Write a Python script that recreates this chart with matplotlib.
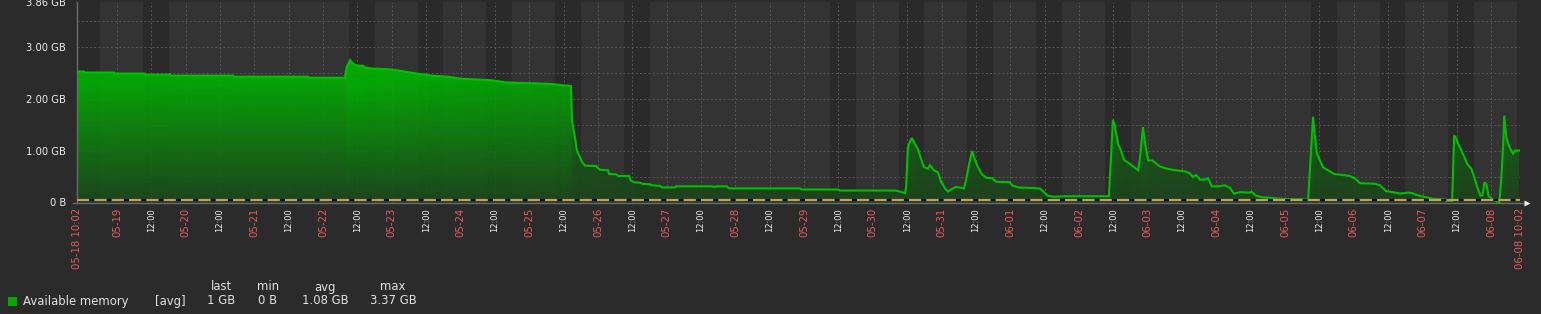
import numpy as np
import pandas as pd
import matplotlib
matplotlib.use('Agg')
import matplotlib.pyplot as plt
import matplotlib.dates as mdates

start = pd.Timestamp('2023-05-18 10:02')
end = pd.Timestamp('2023-06-08 10:02')

# hours since start / available memory (GB)
hours = [0, 2.4, 2.8, 12.9, 13.3, 23.7, 24.1, 32.1, 32.5, 32.8, 54.5, 54.8, 80.7, 81.0,
         93.6, 94.0, 94.3, 95.4, 96.4, 97.8, 99.9, 100.6, 102.3, 109.3, 112.1, 115.3,
         119.8, 124.0, 129.6, 134.1, 144.9, 149.8, 155.1, 165.6, 170.4, 172.5, 172.9,
         173.9, 174.6, 175.7, 176.4, 177.4, 181.3, 182.0, 182.7, 185.5, 185.8, 188.3,
         189.0, 192.8, 193.5, 194.5, 196.6, 197.3, 200.1, 200.8, 203.6, 204.3, 208.9,
         209.2, 221.8, 222.5, 223.5, 227.0, 227.7, 252.5, 253.2, 265.8, 266.5, 285.7,
         287.5, 289.2, 289.6, 290.2, 291.0, 291.6, 292.7, 293.7, 294.8, 295.8, 297.2,
         297.9, 299.3, 300.7, 301.8, 303.2, 304.2, 305.3, 307.0, 309.8, 310.5, 311.6,
         312.6, 313.7, 314.7, 316.1, 317.8, 319.6, 321.0, 325.9, 326.6, 328.7, 336.3,
         337.7, 339.1, 341.2, 345.1, 360.4, 361.1, 361.8, 362.5, 363.6, 364.6, 365.7,
         367.8, 370.6, 371.3, 372.3, 373.0, 374.1, 375.5, 378.3, 380.7, 383.5, 387.0,
         388.7, 389.8, 390.8, 392.2, 394.0, 395.0, 396.4, 398.5, 400.9, 402.7, 404.1,
         406.2, 409.0, 410.4, 411.8, 413.9, 416.7, 420.2, 430.0, 430.6, 431.3, 431.7,
         432.4, 433.1, 434.1, 435.2, 436.6, 437.6, 439.0, 440.4, 444.6, 446.4, 448.1,
         453.4, 455.1, 457.2, 460.4, 462.1, 464.9, 466.3, 467.7, 469.5, 473.7, 477.8,
         478.2, 480.3, 481.0, 481.7, 482.4, 483.8, 485.6, 487.0, 488.0, 489.1, 490.2,
         490.9, 491.6, 492.3, 493.0, 494.4, 495.8, 496.8, 497.5, 498.2, 498.5, 499.2,
         499.9, 500.6, 501.6, 502.3, 503.7]
mem_gb = [2.52, 2.52, 2.50, 2.50, 2.48, 2.48, 2.46, 2.46, 2.47, 2.44, 2.44, 2.42, 2.42, 2.40,
          2.40, 2.55, 2.62, 2.74, 2.67, 2.63, 2.63, 2.60, 2.58, 2.56, 2.54, 2.51,
          2.47, 2.44, 2.42, 2.38, 2.35, 2.31, 2.30, 2.28, 2.25, 2.24, 1.58,
          1.26, 1.00, 0.87, 0.78, 0.71, 0.70, 0.66, 0.63, 0.62, 0.55, 0.54,
          0.51, 0.51, 0.42, 0.39, 0.38, 0.36, 0.35, 0.33, 0.32, 0.29, 0.29,
          0.31, 0.31, 0.30, 0.31, 0.31, 0.27, 0.27, 0.25, 0.25, 0.23, 0.23,
          0.21, 0.18, 0.30, 1.06, 1.18, 1.24, 1.12, 1.03, 0.84, 0.68, 0.65,
          0.72, 0.62, 0.58, 0.40, 0.27, 0.21, 0.25, 0.30, 0.27, 0.42, 0.74,
          0.99, 0.81, 0.68, 0.54, 0.47, 0.47, 0.40, 0.39, 0.33, 0.29, 0.27,
          0.20, 0.13, 0.11, 0.12, 0.12, 0.81, 1.59, 1.48, 1.13, 1.00, 0.82,
          0.74, 0.62, 0.87, 1.45, 1.16, 0.81, 0.81, 0.69, 0.65, 0.62, 0.60,
          0.56, 0.49, 0.53, 0.44, 0.44, 0.47, 0.31, 0.31, 0.33, 0.28, 0.17,
          0.20, 0.19, 0.20, 0.13, 0.10, 0.09, 0.07, 0.06, 0.60, 1.26, 1.65,
          1.26, 0.94, 0.81, 0.68, 0.63, 0.60, 0.55, 0.54, 0.51, 0.46, 0.37,
          0.36, 0.33, 0.22, 0.19, 0.17, 0.19, 0.18, 0.15, 0.12, 0.07, 0.06,
          0.03, 0.03, 1.29, 1.24, 1.13, 0.97, 0.74, 0.65, 0.49, 0.29, 0.13,
          0.14, 0.39, 0.35, 0.13, 0.06, 0.02, 0.01, 0.49, 1.19, 1.67, 1.26,
          1.13, 1.03, 0.94, 1.00, 1.00]

trigger_gb = 0.045
y_max = 3.86
ytick_vals = [0, 1, 2, 3, 3.86]
ytick_labels = ['0 B', '1.00 GB', '2.00 GB', '3.00 GB', '3.86 GB']

item_name = 'Available memory'
item_func = '[avg]'
stat_names = ['last', 'min', 'avg', 'max']
stat_values = ['1 GB', '0 B', '1.08 GB', '3.37 GB']

W, H = 1541, 314
fig = plt.figure(figsize=(W / 100, H / 100), dpi=100)
fig.patch.set_facecolor('#2b2b2b')
ax = fig.add_axes([77 / W, 1 - 202.5 / H, 1443 / W, 200.7 / H])
ax.set_facecolor('#333333')

t0 = mdates.date2num(start)
t1 = mdates.date2num(end)
tx = t0 + np.array(hours) / 24.0
mem = np.array(mem_gb)

# working time (Mon-Fri 09-18) darker
for d in pd.date_range(start.normalize(), end.normalize(), freq='D'):
    if d.weekday() < 5:
        a = max(mdates.date2num(d + pd.Timedelta(hours=9)), t0)
        b = min(mdates.date2num(d + pd.Timedelta(hours=18)), t1)
        if b > a:
            ax.axvspan(a, b, color='#2a2a2a', lw=0, zorder=0)

# grid
for g in np.arange(0.5, y_max, 0.5):
    ax.axhline(g, color='#545454', lw=0.75, dashes=(2, 2), zorder=1)
ticks = [start] + list(pd.date_range('2023-05-19 00:00', '2023-06-08 00:00', freq='12h')) + [end]
for tk in ticks[1:-1]:
    ax.axvline(mdates.date2num(tk), color='#545454', lw=0.75, dashes=(2, 2), zorder=1)

# gradient fill
nx, ny = 1443, 200
xc = np.linspace(t0, t1, nx)
yc = np.linspace(0, y_max, ny)
V = np.interp(xc, tx, mem)
X, Y = np.meshgrid(V, yc)
tt = np.clip(X * Y / 6.0, 0, 1)[..., None]
dark = np.array([0x1c, 0x46, 0x1c]) / 255.0
bright = np.array([0x00, 0xb4, 0x00]) / 255.0
rgb = dark + (bright - dark) * tt
img = np.concatenate([rgb, np.full((ny, nx, 1), 0.9)], axis=2)
poly = ax.fill_between(tx, mem, 0, facecolor='none', edgecolor='none')
im = ax.imshow(img, extent=[t0, t1, 0, y_max], origin='lower', aspect='auto',
               interpolation='bilinear', zorder=2)
im.set_clip_path(poly.get_paths()[0], ax.transData)

ax.plot(tx, mem, color='#00c000', lw=1.5, zorder=3, solid_joinstyle='miter')

# trigger line
ax.axhline(trigger_gb, color='#111111', lw=1.6, zorder=4)
ax.axhline(trigger_gb, color='#c89c5c', lw=1.6, dashes=(5.5, 2.3), zorder=5)

ax.set_xlim(t0, t1)
ax.set_ylim(0, y_max)

for s in ['top', 'right']:
    ax.spines[s].set_visible(False)
for s in ['left', 'bottom']:
    ax.spines[s].set_color('#6a6a6a')
    ax.spines[s].set_linewidth(1.0)
ax.plot([-0.003, 0.0], [0, 0], transform=ax.transAxes, color='#6a6a6a', lw=1.0, clip_on=False)
ax.plot([1.0, 1.005], [0, 0], transform=ax.transAxes, color='#6a6a6a', lw=1.0, clip_on=False)
ax.plot([1.005], [0], transform=ax.transAxes, marker='>', ms=4.5, color='#eeeeee',
        clip_on=False, mec='none')

ax.set_yticks(ytick_vals)
ax.set_yticklabels(ytick_labels)
ax.tick_params(axis='y', length=0, pad=8, labelsize=7.2, labelcolor='#eeeeee')

ax.set_xticks([mdates.date2num(tk) for tk in ticks])
labels = []
for i, tk in enumerate(ticks):
    if i == 0 or i == len(ticks) - 1:
        labels.append(tk.strftime('%m-%d %H:%M'))
    elif tk.hour == 0:
        labels.append(tk.strftime('%m-%d'))
    else:
        labels.append(tk.strftime('%H:%M'))
ax.set_xticklabels(labels, rotation=90)
ax.tick_params(axis='x', length=0, pad=4)
for i, (tk, lab) in enumerate(zip(ticks, ax.get_xticklabels())):
    if i == 0 or i == len(ticks) - 1 or tk.hour == 0:
        lab.set_color('#e85c5c')
        lab.set_fontsize(7.3)
    else:
        lab.set_color('#f0f0f0')
        lab.set_fontsize(6.0)

# legend
def fx(px):
    return px / W

def fy(py):
    return 1 - py / H

fig.patches.append(plt.Rectangle((fx(8), fy(305.5)), 9 / W, 9 / H, transform=fig.transFigure,
                                 facecolor='#00aa00', edgecolor='none'))
fig.text(fx(23), fy(301), item_name, color='#e0e0e0', fontsize=8.4, va='center', ha='left')
fig.text(fx(155), fy(301), item_func, color='#e0e0e0', fontsize=8.4, va='center', ha='left')
for cx, nm, val in zip([221, 268, 325, 393], stat_names, stat_values):
    fig.text(fx(cx), fy(287), nm, color='#e0e0e0', fontsize=8.4, va='center', ha='center')
    fig.text(fx(cx), fy(301), val, color='#e0e0e0', fontsize=8.4, va='center', ha='center')

fig.savefig('out.png', dpi=100, facecolor=fig.get_facecolor())
